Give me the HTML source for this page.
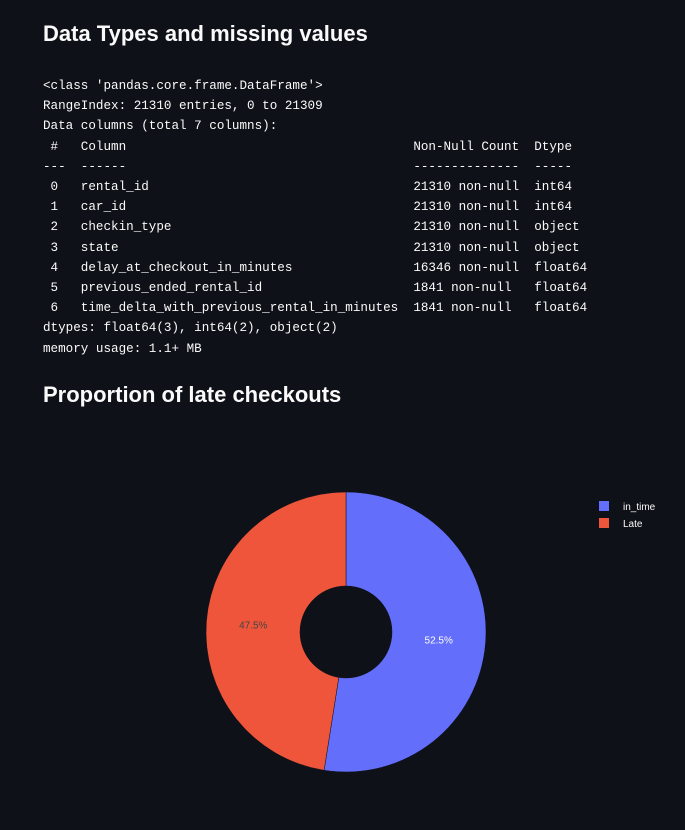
<!DOCTYPE html>
<html><head><meta charset="utf-8">
<style>
html,body{margin:0;padding:0;background:#0e1117;}
body{width:685px;height:830px;position:relative;overflow:hidden;color:#fafafa;}
h2{position:absolute;left:43px;margin:0;font-family:"Liberation Sans",sans-serif;font-weight:bold;font-size:22px;letter-spacing:0px;color:#fafafa;white-space:nowrap;}
pre{position:absolute;left:43px;top:76px;margin:0;font-family:"Liberation Mono",monospace;font-size:12.6px;line-height:20.2px;color:#fafafa;}
svg{position:absolute;left:0;top:0;}
</style></head><body>
<h2 style="top:21px">Data Types and missing values</h2>
<pre>&lt;class 'pandas.core.frame.DataFrame'&gt;
RangeIndex: 21310 entries, 0 to 21309
Data columns (total 7 columns):
 #   Column                                      Non-Null Count  Dtype  
---  ------                                      --------------  -----  
 0   rental_id                                   21310 non-null  int64  
 1   car_id                                      21310 non-null  int64  
 2   checkin_type                                21310 non-null  object 
 3   state                                       21310 non-null  object 
 4   delay_at_checkout_in_minutes                16346 non-null  float64
 5   previous_ended_rental_id                    1841 non-null   float64
 6   time_delta_with_previous_rental_in_minutes  1841 non-null   float64
dtypes: float64(3), int64(2), object(2)
memory usage: 1.1+ MB</pre>
<h2 style="top:382px">Proportion of late checkouts</h2>
<svg id="chart" width="685" height="830"></svg>
<script>
const labels=["in_time","Late"];
const values=[52.5,47.5];
const colors=["#636efa","#ef553b"];
const svg=document.getElementById('chart');
const NS="http://www.w3.org/2000/svg";
const cx=346,cy=632,R=140,r=46;
const total=values.reduce((a,b)=>a+b,0);
let start=0;
function pt(a,rad){return [cx+rad*Math.sin(a),cy-rad*Math.cos(a)];}
values.forEach((v,i)=>{
  const a0=start/total*2*Math.PI, a1=(start+v)/total*2*Math.PI;
  const large=(a1-a0)>Math.PI?1:0;
  const [x0,y0]=pt(a0,R),[x1,y1]=pt(a1,R),[x2,y2]=pt(a1,r),[x3,y3]=pt(a0,r);
  const p=document.createElementNS(NS,'path');
  p.setAttribute('d',`M${x0},${y0}A${R},${R} 0 ${large} 1 ${x1},${y1}L${x2},${y2}A${r},${r} 0 ${large} 0 ${x3},${y3}Z`);
  p.setAttribute('fill',colors[i]);
  p.setAttribute('stroke','#0e1117');p.setAttribute('stroke-width','0.5');
  
  
  svg.appendChild(p);
  const am=(a0+a1)/2;const [tx,ty]=pt(am,(R+r)/2);
  const t=document.createElementNS(NS,'text');
  t.setAttribute('x',tx);t.setAttribute('y',ty+4);
  t.setAttribute('text-anchor','middle');
  t.setAttribute('font-family','Liberation Sans, sans-serif');t.setAttribute('font-size','10');
  t.setAttribute('fill',i===0?'#ffffff':'#444444');
  t.textContent=v.toFixed(1)+'%';
  
  
  svg.appendChild(t);
  start+=v;
});
labels.forEach((l,i)=>{
  const g=document.createElementNS(NS,'g');
  
  
  const y=501+i*17;
  const rc=document.createElementNS(NS,'rect');
  rc.setAttribute('x',599);rc.setAttribute('y',y);rc.setAttribute('width',10);rc.setAttribute('height',10);
  rc.setAttribute('fill',colors[i]);
  g.appendChild(rc);
  const t=document.createElementNS(NS,'text');
  t.setAttribute('x',623);t.setAttribute('y',y+9);
  t.setAttribute('font-family','Liberation Sans, sans-serif');t.setAttribute('font-size','10');
  t.setAttribute('fill','#fafafa');t.textContent=l;
  g.appendChild(t);
  svg.appendChild(g);
});
</script>
</body></html>
